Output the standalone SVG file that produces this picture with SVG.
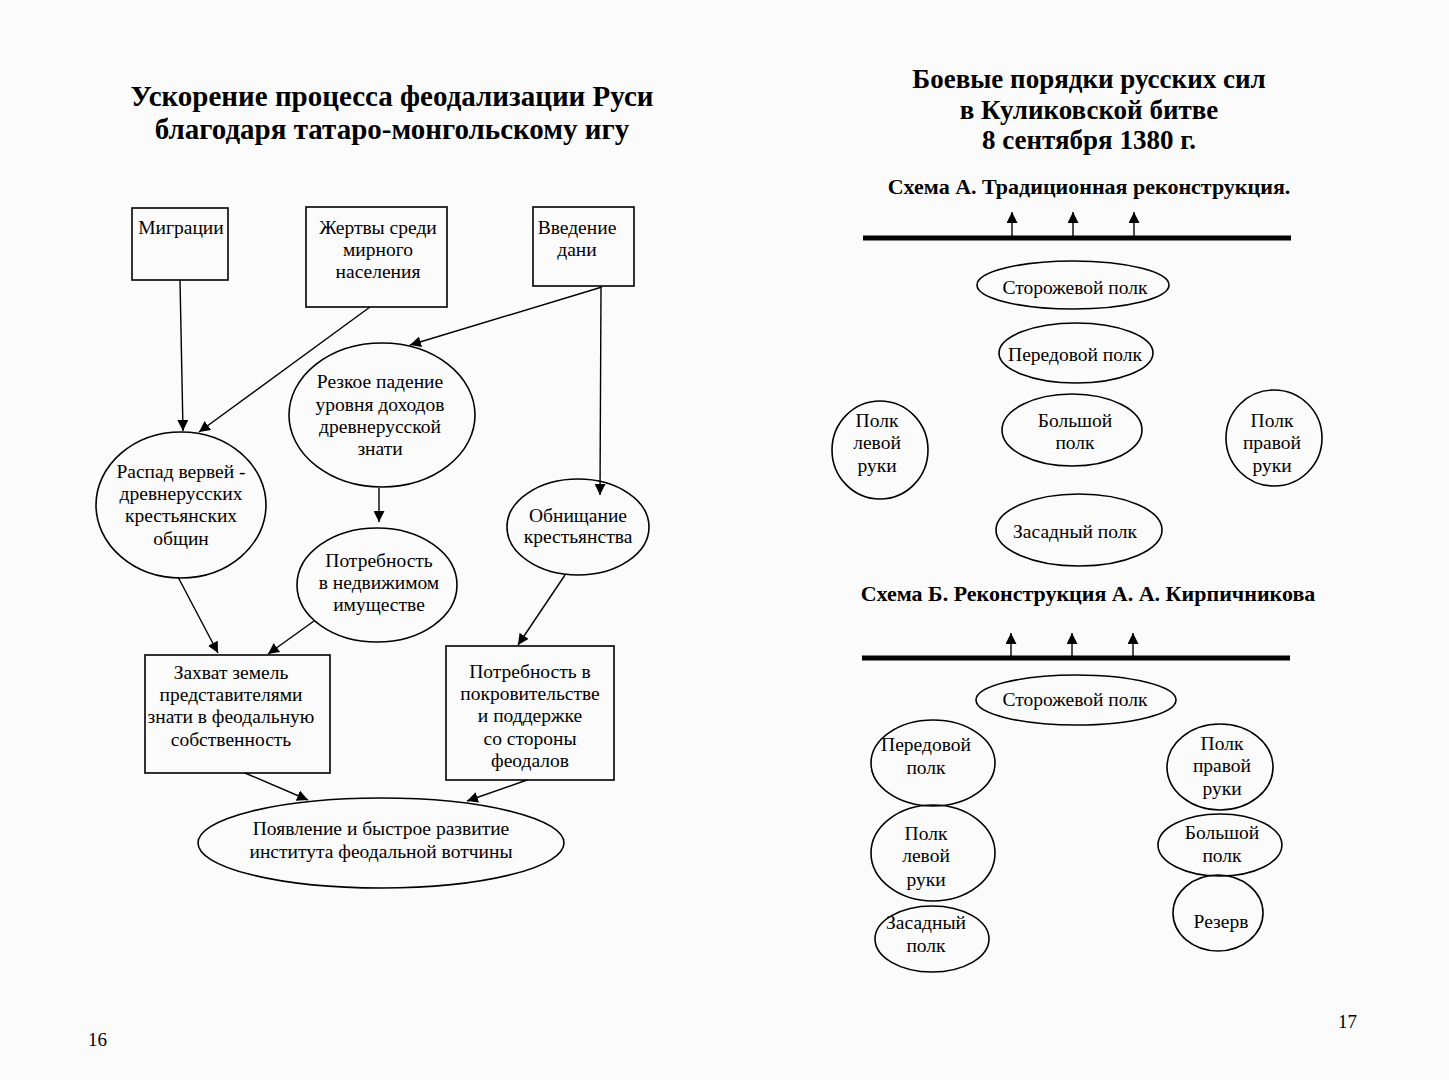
<svg xmlns="http://www.w3.org/2000/svg" width="1449" height="1080" viewBox="0 0 1449 1080">
<defs>
<marker id="ah" viewBox="0 0 10 10" refX="10" refY="5" markerWidth="11" markerHeight="11" markerUnits="userSpaceOnUse" orient="auto">
<path d="M0,0 L10,5 L0,10 z" fill="#000"/>
</marker>
<marker id="ahs" viewBox="0 0 10 10" refX="10" refY="5" markerWidth="11" markerHeight="11" markerUnits="userSpaceOnUse" orient="auto">
<path d="M0,0 L10,5 L0,10 z" fill="#000"/>
</marker>
</defs>
<style>
.bg{fill:#fcfbfb}
.n{fill:none;stroke:#000;stroke-width:1.6}
.t{font-family:"Liberation Serif","Times New Roman",serif;font-size:19.5px;fill:#000;text-anchor:middle}
.h{font-family:"Liberation Serif","Times New Roman",serif;font-weight:bold;fill:#000;text-anchor:middle}
.c{fill:none;stroke:#000;stroke-width:1.4}
.bar{stroke:#000;stroke-width:5}
.pg{font-family:"Liberation Serif","Times New Roman",serif;font-size:19px;fill:#000}
</style>
<rect class="bg" x="0" y="0" width="1449" height="1080"/>

<g id="left-title">
<text class="h" x="392" y="106" font-size="29">Ускорение процесса феодализации Руси</text>
<text class="h" x="392" y="139" font-size="29">благодаря татаро-монгольскому игу</text>
</g>

<g id="n-migr"><rect class="n" x="132" y="208" width="96" height="72"/>
<text class="t" x="181" y="234">Миграции</text></g>
<g id="n-zhertvy"><rect class="n" x="306" y="207" width="141" height="100"/>
<text class="t" x="378" y="234">Жертвы среди</text><text class="t" x="378" y="256">мирного</text><text class="t" x="378" y="278">населения</text></g>
<g id="n-dani"><rect class="n" x="533" y="207" width="101" height="79"/>
<text class="t" x="577" y="234">Введение</text><text class="t" x="577" y="256">дани</text></g>

<g id="n-raspad"><ellipse class="n" cx="181" cy="505" rx="85" ry="73"/>
<text class="t" x="181" y="478">Распад вервей -</text><text class="t" x="181" y="500">древнерусских</text><text class="t" x="181" y="522">крестьянских</text><text class="t" x="181" y="545">общин</text></g>
<g id="n-rezkoe"><ellipse class="n" cx="382" cy="415" rx="93" ry="72"/>
<text class="t" x="380" y="388">Резкое падение</text><text class="t" x="380" y="411">уровня доходов</text><text class="t" x="380" y="433">древнерусской</text><text class="t" x="380" y="455">знати</text></g>
<g id="n-nedv"><ellipse class="n" cx="377" cy="585" rx="80" ry="57"/>
<text class="t" x="379" y="567">Потребность</text><text class="t" x="379" y="589">в недвижимом</text><text class="t" x="379" y="611">имуществе</text></g>
<g id="n-obn"><ellipse class="n" cx="578" cy="527" rx="71" ry="48"/>
<text class="t" x="578" y="522">Обнищание</text><text class="t" x="578" y="543">крестьянства</text></g>
<g id="n-zahvat"><rect class="n" x="145" y="655" width="185" height="118"/>
<text class="t" x="231" y="679">Захват земель</text><text class="t" x="231" y="701">представителями</text><text class="t" x="231" y="723">знати в феодальную</text><text class="t" x="231" y="746">собственность</text></g>
<g id="n-pokr"><rect class="n" x="446" y="646" width="168" height="134"/>
<text class="t" x="530" y="678">Потребность в</text><text class="t" x="530" y="700">покровительстве</text><text class="t" x="530" y="722">и поддержке</text><text class="t" x="530" y="745">со стороны</text><text class="t" x="530" y="767">феодалов</text></g>
<g id="n-poyavl"><ellipse class="n" cx="381" cy="843" rx="183" ry="45"/>
<text class="t" x="381" y="835">Появление и быстрое развитие</text><text class="t" x="381" y="858">института феодальной вотчины</text></g>

<g id="connectors">
<line class="c" x1="180" y1="280" x2="183" y2="431" marker-end="url(#ah)"/>
<line class="c" x1="370" y1="307" x2="199" y2="432" marker-end="url(#ah)"/>
<line class="c" x1="602" y1="287" x2="410" y2="345" marker-end="url(#ah)"/>
<line class="c" x1="601" y1="287" x2="600" y2="495" marker-end="url(#ah)"/>
<line class="c" x1="379" y1="488" x2="379" y2="522" marker-end="url(#ah)"/>
<line class="c" x1="178" y1="577" x2="218" y2="653" marker-end="url(#ah)"/>
<line class="c" x1="314" y1="621" x2="268" y2="654" marker-end="url(#ah)"/>
<line class="c" x1="565" y1="575" x2="518" y2="645" marker-end="url(#ah)"/>
<line class="c" x1="245" y1="773" x2="308" y2="800" marker-end="url(#ah)"/>
<line class="c" x1="527" y1="780" x2="467" y2="801" marker-end="url(#ah)"/>
</g>

<text class="pg" x="88" y="1046">16</text>

<g id="right-title">
<text class="h" x="1089" y="88" font-size="27">Боевые порядки русских сил</text>
<text class="h" x="1089" y="119" font-size="27">в Куликовской битве</text>
<text class="h" x="1089" y="149" font-size="27">8 сентября 1380 г.</text>
<text class="h" x="1089" y="194" font-size="22">Схема А. Традиционная реконструкция.</text>
</g>

<g id="front-a">
<line class="bar" x1="863" y1="238" x2="1291" y2="238"/>
<line class="c" x1="1012" y1="236" x2="1012" y2="212" marker-end="url(#ahs)"/>
<line class="c" x1="1073" y1="236" x2="1073" y2="212" marker-end="url(#ahs)"/>
<line class="c" x1="1134" y1="236" x2="1134" y2="212" marker-end="url(#ahs)"/>
</g>
<g id="a-storozh"><ellipse class="n" cx="1073" cy="285" rx="96" ry="24"/><text class="t" x="1075" y="294">Сторожевой полк</text></g>
<g id="a-pered"><ellipse class="n" cx="1076" cy="353" rx="77" ry="30"/><text class="t" x="1075" y="361">Передовой полк</text></g>
<g id="a-bolsh"><ellipse class="n" cx="1072" cy="430" rx="70" ry="36"/><text class="t" x="1075" y="427">Большой</text><text class="t" x="1075" y="449">полк</text></g>
<g id="a-lev"><ellipse class="n" cx="880" cy="450" rx="48" ry="49"/><text class="t" x="877" y="427">Полк</text><text class="t" x="877" y="449">левой</text><text class="t" x="877" y="472">руки</text></g>
<g id="a-prav"><ellipse class="n" cx="1274" cy="438" rx="48" ry="48"/><text class="t" x="1272" y="427">Полк</text><text class="t" x="1272" y="449">правой</text><text class="t" x="1272" y="472">руки</text></g>
<g id="a-zasad"><ellipse class="n" cx="1079" cy="530" rx="83" ry="36"/><text class="t" x="1075" y="538">Засадный полк</text></g>

<text class="h" x="1088" y="601" font-size="22">Схема Б. Реконструкция А. А. Кирпичникова</text>

<g id="front-b">
<line class="bar" x1="862" y1="658" x2="1290" y2="658"/>
<line class="c" x1="1011" y1="656" x2="1011" y2="633" marker-end="url(#ahs)"/>
<line class="c" x1="1072" y1="656" x2="1072" y2="633" marker-end="url(#ahs)"/>
<line class="c" x1="1133" y1="656" x2="1133" y2="633" marker-end="url(#ahs)"/>
</g>
<g id="b-storozh"><ellipse class="n" cx="1076" cy="700" rx="100" ry="25"/><text class="t" x="1075" y="706">Сторожевой полк</text></g>
<g id="b-pered"><ellipse class="n" cx="933" cy="763" rx="62" ry="43"/><text class="t" x="926" y="751">Передовой</text><text class="t" x="926" y="774">полк</text></g>
<g id="b-lev"><ellipse class="n" cx="933" cy="853" rx="62" ry="48"/><text class="t" x="926" y="840">Полк</text><text class="t" x="926" y="862">левой</text><text class="t" x="926" y="886">руки</text></g>
<g id="b-zasad"><ellipse class="n" cx="932" cy="939" rx="57" ry="33"/><text class="t" x="926" y="929">Засадный</text><text class="t" x="926" y="952">полк</text></g>
<g id="b-prav"><ellipse class="n" cx="1220" cy="767" rx="53" ry="43"/><text class="t" x="1222" y="750">Полк</text><text class="t" x="1222" y="772">правой</text><text class="t" x="1222" y="795">руки</text></g>
<g id="b-bolsh"><ellipse class="n" cx="1220" cy="845" rx="62" ry="31"/><text class="t" x="1222" y="839">Большой</text><text class="t" x="1222" y="862">полк</text></g>
<g id="b-rezerv"><ellipse class="n" cx="1218" cy="913" rx="45" ry="38"/><text class="t" x="1221" y="928">Резерв</text></g>

<text class="pg" x="1338" y="1028">17</text>
</svg>
